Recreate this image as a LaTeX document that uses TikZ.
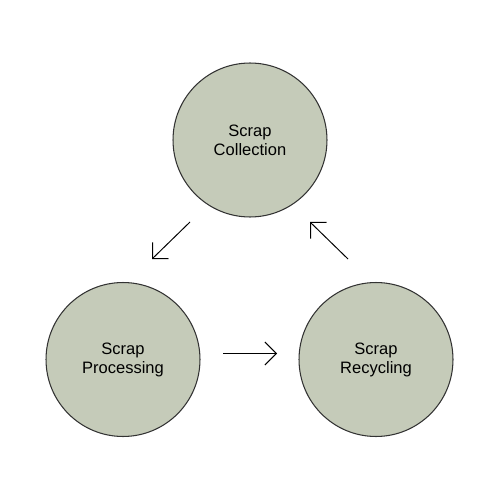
\documentclass[tikz,border=0pt]{standalone}
\usepackage{fontspec}
\setmainfont{Liberation Sans}
\usepackage{xcolor}
\usetikzlibrary{arrows.meta}
\definecolor{stage}{HTML}{C5CBB9}
\definecolor{rim}{HTML}{333333}

\begin{document}
\begin{tikzpicture}[x=0.02cm,y=-0.02cm,
    stagebox/.style={circle,draw=rim,line width=0.6pt,fill=stage,minimum size=3.08cm,inner sep=0pt,align=center,font=\fontsize{9.4}{10.8}\selectfont},
    flow/.style={line width=0.55pt,-{Straight Barb[length=6.5pt,width=13pt]}}]
  \useasboundingbox (0,0) rectangle (500,500);
  \node[stagebox] (collection) at (250,140) {Scrap\\Collection};
  \node[stagebox] (processing) at (123,359.5) {Scrap\\Processing};
  \node[stagebox] (recycling) at (376,359.5) {Scrap\\Recycling};
  \draw[flow] ([shift={(-60,82)}]collection.center) -- ([shift={(29,-100.5)}]processing.center);
  \draw[flow] ([shift={(100,-6)}]processing.center) -- ([shift={(-99,-6)}]recycling.center);
  \draw[flow] ([shift={(-28,-100.5)}]recycling.center) -- ([shift={(60,82)}]collection.center);
\end{tikzpicture}
\end{document}
